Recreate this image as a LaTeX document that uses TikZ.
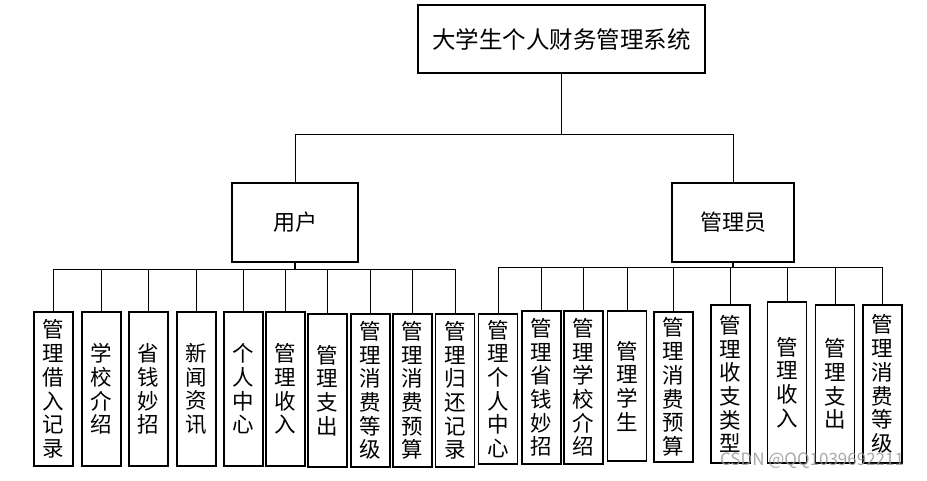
\documentclass[tikz,border=0pt]{standalone}
\usepackage{fontspec}
\newfontfamily\cjk{Noto Sans CJK SC}
\usepackage{xcolor}
\definecolor{fmink}{HTML}{000000}
\definecolor{fmwater}{HTML}{9A9A9A}
\usepackage{tikz}
\usetikzlibrary{positioning,calc}
\tikzset{
  fmbox/.style={draw=fmink,line width=1.3pt,inner sep=0pt,align=center,font=\cjk\fontsize{22}{26}\selectfont},
  fmcol/.style={draw=fmink,line width=1.3pt,inner sep=0pt,minimum width=39pt,align=center,font=\cjk\fontsize{21.5}{23.7}\selectfont},
  fmline/.style={draw=fmink,line width=0.9pt},
  fmstem/.style={draw=fmink,line width=2.2pt},
  fmmark/.style={font=\cjk\fontsize{17}{17}\selectfont,text=fmwater,opacity=0.85,inner sep=0pt},
}
\begin{document}
\begin{tikzpicture}[x=1pt,y=-1pt]
\useasboundingbox[fill=white] (0,0) rectangle (927,480);
% top level
\node[fmbox,minimum width=287pt,minimum height=68pt,font=\cjk\fontsize{23.5}{26}\selectfont] (sys) at (561.5,39) {大学生个人财务管理系统};
\node[fmbox,minimum width=126pt,minimum height=79pt] (user) at (295,222.5) {用户};
\node[fmbox,minimum width=122pt,minimum height=79pt] (admin) at (733,222.5) {管理员};
% user functions
\node[fmcol,minimum height=154pt] (l1) at (53.5,389) {管\\理\\借\\入\\记\\录};
\node[fmcol,minimum height=154pt] (l2) at (101.5,389) {学\\校\\介\\绍};
\node[fmcol,minimum height=154pt] (l3) at (148.5,389) {省\\钱\\妙\\招};
\node[fmcol,minimum height=154pt] (l4) at (196.5,389) {新\\闻\\资\\讯};
\node[fmcol,minimum height=154pt] (l5) at (243.5,389) {个\\人\\中\\心};
\node[fmcol,minimum height=154pt] (l6) at (285.5,389) {管\\理\\收\\入};
\node[fmcol,minimum height=153pt] (l7) at (327.5,390.5) {管\\理\\支\\出};
\node[fmcol,minimum height=153pt] (l8) at (370.5,390.5) {管\\理\\消\\费\\等\\级};
\node[fmcol,minimum height=153pt] (l9) at (412.5,390.5) {管\\理\\消\\费\\预\\算};
\node[fmcol,minimum height=153pt] (l10) at (455,390.5) {管\\理\\归\\还\\记\\录};
% admin functions
\node[fmcol,minimum height=150pt] (r1) at (498,389) {管\\理\\个\\人\\中\\心};
\node[fmcol,minimum height=153pt] (r2) at (541.5,387.5) {管\\理\\省\\钱\\妙\\招};
\node[fmcol,minimum height=153pt] (r3) at (583.5,387.5) {管\\理\\学\\校\\介\\绍};
\node[fmcol,minimum height=150pt] (r4) at (627,386) {管\\理\\学\\生};
\node[fmcol,minimum height=150pt] (r5) at (673.5,387) {管\\理\\消\\费\\预\\算};
\node[fmcol,minimum height=158pt] (r6) at (730.5,384) {管\\理\\收\\支\\类\\型};
\node[fmcol,minimum height=161pt] (r7) at (787,382.5) {管\\理\\收\\入};
\node[fmcol,minimum height=158pt] (r8) at (835,384) {管\\理\\支\\出};
\node[fmcol,minimum height=158pt] (r9) at (882.5,384) {管\\理\\消\\费\\等\\级};
% connectors
\coordinate (topbus) at (0,134);
\draw[fmline] (sys.south) -- (sys.south |- topbus) -| (user.north);
\draw[fmline] (sys.south |- topbus) -| (admin.north);
\draw[fmstem] (user.south) -- ++(0,7) coordinate (ubus);
\foreach \n in {1,...,10} \draw[fmline] (ubus) -| (l\n.north);
\draw[fmstem] (admin.south) -- ++(0,5) coordinate (abus);
\foreach \n in {1,...,9} \draw[fmline] (abus) -| (r\n.north);
\node[fmmark] (mark) at (812,461) {CSDN @QQ1039692211};
\end{tikzpicture}
\end{document}
